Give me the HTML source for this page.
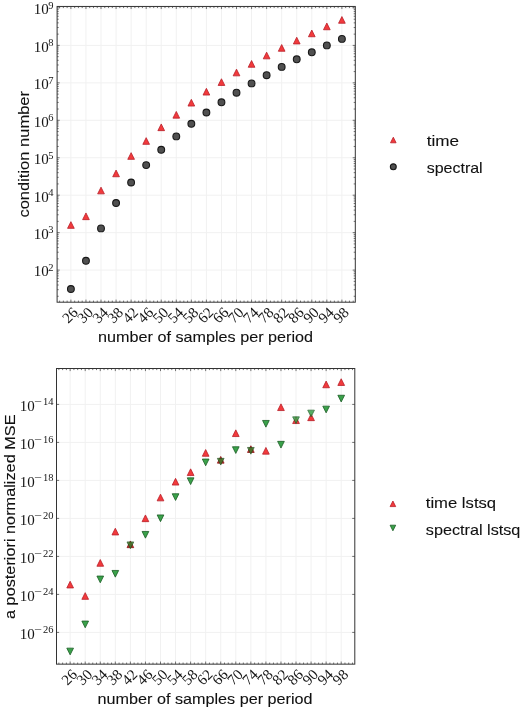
<!DOCTYPE html>
<html><head><meta charset="utf-8"><title>plot</title>
<style>html,body{margin:0;padding:0;background:#fff;}svg{display:block;}</style></head>
<body><svg width="520" height="709" viewBox="0 0 520 709">
<rect width="520" height="709" fill="#fff"/>
<line x1="70.90" y1="6.45" x2="70.90" y2="302.20" stroke="#f1f1f1" stroke-width="1"/>
<line x1="85.96" y1="6.45" x2="85.96" y2="302.20" stroke="#f1f1f1" stroke-width="1"/>
<line x1="101.01" y1="6.45" x2="101.01" y2="302.20" stroke="#f1f1f1" stroke-width="1"/>
<line x1="116.07" y1="6.45" x2="116.07" y2="302.20" stroke="#f1f1f1" stroke-width="1"/>
<line x1="131.12" y1="6.45" x2="131.12" y2="302.20" stroke="#f1f1f1" stroke-width="1"/>
<line x1="146.18" y1="6.45" x2="146.18" y2="302.20" stroke="#f1f1f1" stroke-width="1"/>
<line x1="161.23" y1="6.45" x2="161.23" y2="302.20" stroke="#f1f1f1" stroke-width="1"/>
<line x1="176.29" y1="6.45" x2="176.29" y2="302.20" stroke="#f1f1f1" stroke-width="1"/>
<line x1="191.34" y1="6.45" x2="191.34" y2="302.20" stroke="#f1f1f1" stroke-width="1"/>
<line x1="206.40" y1="6.45" x2="206.40" y2="302.20" stroke="#f1f1f1" stroke-width="1"/>
<line x1="221.46" y1="6.45" x2="221.46" y2="302.20" stroke="#f1f1f1" stroke-width="1"/>
<line x1="236.51" y1="6.45" x2="236.51" y2="302.20" stroke="#f1f1f1" stroke-width="1"/>
<line x1="251.57" y1="6.45" x2="251.57" y2="302.20" stroke="#f1f1f1" stroke-width="1"/>
<line x1="266.62" y1="6.45" x2="266.62" y2="302.20" stroke="#f1f1f1" stroke-width="1"/>
<line x1="281.68" y1="6.45" x2="281.68" y2="302.20" stroke="#f1f1f1" stroke-width="1"/>
<line x1="296.73" y1="6.45" x2="296.73" y2="302.20" stroke="#f1f1f1" stroke-width="1"/>
<line x1="311.79" y1="6.45" x2="311.79" y2="302.20" stroke="#f1f1f1" stroke-width="1"/>
<line x1="326.84" y1="6.45" x2="326.84" y2="302.20" stroke="#f1f1f1" stroke-width="1"/>
<line x1="341.90" y1="6.45" x2="341.90" y2="302.20" stroke="#f1f1f1" stroke-width="1"/>
<line x1="57.1" y1="270.10" x2="355.3" y2="270.10" stroke="#f1f1f1" stroke-width="1"/>
<line x1="57.1" y1="232.65" x2="355.3" y2="232.65" stroke="#f1f1f1" stroke-width="1"/>
<line x1="57.1" y1="195.20" x2="355.3" y2="195.20" stroke="#f1f1f1" stroke-width="1"/>
<line x1="57.1" y1="157.75" x2="355.3" y2="157.75" stroke="#f1f1f1" stroke-width="1"/>
<line x1="57.1" y1="120.30" x2="355.3" y2="120.30" stroke="#f1f1f1" stroke-width="1"/>
<line x1="57.1" y1="82.85" x2="355.3" y2="82.85" stroke="#f1f1f1" stroke-width="1"/>
<line x1="57.1" y1="45.40" x2="355.3" y2="45.40" stroke="#f1f1f1" stroke-width="1"/>
<line x1="57.1" y1="7.95" x2="355.3" y2="7.95" stroke="#f1f1f1" stroke-width="1"/>
<line x1="70.15" y1="368.50" x2="70.15" y2="664.15" stroke="#f1f1f1" stroke-width="1"/>
<line x1="85.21" y1="368.50" x2="85.21" y2="664.15" stroke="#f1f1f1" stroke-width="1"/>
<line x1="100.27" y1="368.50" x2="100.27" y2="664.15" stroke="#f1f1f1" stroke-width="1"/>
<line x1="115.32" y1="368.50" x2="115.32" y2="664.15" stroke="#f1f1f1" stroke-width="1"/>
<line x1="130.38" y1="368.50" x2="130.38" y2="664.15" stroke="#f1f1f1" stroke-width="1"/>
<line x1="145.44" y1="368.50" x2="145.44" y2="664.15" stroke="#f1f1f1" stroke-width="1"/>
<line x1="160.50" y1="368.50" x2="160.50" y2="664.15" stroke="#f1f1f1" stroke-width="1"/>
<line x1="175.56" y1="368.50" x2="175.56" y2="664.15" stroke="#f1f1f1" stroke-width="1"/>
<line x1="190.62" y1="368.50" x2="190.62" y2="664.15" stroke="#f1f1f1" stroke-width="1"/>
<line x1="205.67" y1="368.50" x2="205.67" y2="664.15" stroke="#f1f1f1" stroke-width="1"/>
<line x1="220.73" y1="368.50" x2="220.73" y2="664.15" stroke="#f1f1f1" stroke-width="1"/>
<line x1="235.79" y1="368.50" x2="235.79" y2="664.15" stroke="#f1f1f1" stroke-width="1"/>
<line x1="250.85" y1="368.50" x2="250.85" y2="664.15" stroke="#f1f1f1" stroke-width="1"/>
<line x1="265.91" y1="368.50" x2="265.91" y2="664.15" stroke="#f1f1f1" stroke-width="1"/>
<line x1="280.97" y1="368.50" x2="280.97" y2="664.15" stroke="#f1f1f1" stroke-width="1"/>
<line x1="296.02" y1="368.50" x2="296.02" y2="664.15" stroke="#f1f1f1" stroke-width="1"/>
<line x1="311.08" y1="368.50" x2="311.08" y2="664.15" stroke="#f1f1f1" stroke-width="1"/>
<line x1="326.14" y1="368.50" x2="326.14" y2="664.15" stroke="#f1f1f1" stroke-width="1"/>
<line x1="341.20" y1="368.50" x2="341.20" y2="664.15" stroke="#f1f1f1" stroke-width="1"/>
<line x1="56.5" y1="632.40" x2="354.8" y2="632.40" stroke="#f1f1f1" stroke-width="1"/>
<line x1="56.5" y1="594.40" x2="354.8" y2="594.40" stroke="#f1f1f1" stroke-width="1"/>
<line x1="56.5" y1="556.40" x2="354.8" y2="556.40" stroke="#f1f1f1" stroke-width="1"/>
<line x1="56.5" y1="518.40" x2="354.8" y2="518.40" stroke="#f1f1f1" stroke-width="1"/>
<line x1="56.5" y1="480.40" x2="354.8" y2="480.40" stroke="#f1f1f1" stroke-width="1"/>
<line x1="56.5" y1="442.40" x2="354.8" y2="442.40" stroke="#f1f1f1" stroke-width="1"/>
<line x1="56.5" y1="404.40" x2="354.8" y2="404.40" stroke="#f1f1f1" stroke-width="1"/>
<path d="M70.90,221.65L67.55,228.35L74.25,228.35Z" fill="#f23a3c" stroke="#b81e28" stroke-width="0.8"/>
<path d="M85.96,212.95L82.61,219.65L89.31,219.65Z" fill="#f23a3c" stroke="#b81e28" stroke-width="0.8"/>
<path d="M101.01,187.15L97.66,193.85L104.36,193.85Z" fill="#f23a3c" stroke="#b81e28" stroke-width="0.8"/>
<path d="M116.07,170.05L112.72,176.75L119.42,176.75Z" fill="#f23a3c" stroke="#b81e28" stroke-width="0.8"/>
<path d="M131.12,152.65L127.77,159.35L134.47,159.35Z" fill="#f23a3c" stroke="#b81e28" stroke-width="0.8"/>
<path d="M146.18,137.65L142.83,144.35L149.53,144.35Z" fill="#f23a3c" stroke="#b81e28" stroke-width="0.8"/>
<path d="M161.23,123.95L157.88,130.65L164.58,130.65Z" fill="#f23a3c" stroke="#b81e28" stroke-width="0.8"/>
<path d="M176.29,111.45L172.94,118.15L179.64,118.15Z" fill="#f23a3c" stroke="#b81e28" stroke-width="0.8"/>
<path d="M191.34,99.35L187.99,106.05L194.69,106.05Z" fill="#f23a3c" stroke="#b81e28" stroke-width="0.8"/>
<path d="M206.40,88.35L203.05,95.05L209.75,95.05Z" fill="#f23a3c" stroke="#b81e28" stroke-width="0.8"/>
<path d="M221.46,78.75L218.11,85.45L224.81,85.45Z" fill="#f23a3c" stroke="#b81e28" stroke-width="0.8"/>
<path d="M236.51,69.15L233.16,75.85L239.86,75.85Z" fill="#f23a3c" stroke="#b81e28" stroke-width="0.8"/>
<path d="M251.57,60.55L248.22,67.25L254.92,67.25Z" fill="#f23a3c" stroke="#b81e28" stroke-width="0.8"/>
<path d="M266.62,52.15L263.27,58.85L269.97,58.85Z" fill="#f23a3c" stroke="#b81e28" stroke-width="0.8"/>
<path d="M281.68,44.55L278.33,51.25L285.03,51.25Z" fill="#f23a3c" stroke="#b81e28" stroke-width="0.8"/>
<path d="M296.73,37.25L293.38,43.95L300.08,43.95Z" fill="#f23a3c" stroke="#b81e28" stroke-width="0.8"/>
<path d="M311.79,30.05L308.44,36.75L315.14,36.75Z" fill="#f23a3c" stroke="#b81e28" stroke-width="0.8"/>
<path d="M326.84,23.05L323.49,29.75L330.19,29.75Z" fill="#f23a3c" stroke="#b81e28" stroke-width="0.8"/>
<path d="M341.90,16.55L338.55,23.25L345.25,23.25Z" fill="#f23a3c" stroke="#b81e28" stroke-width="0.8"/>
<circle cx="70.90" cy="289.00" r="3.40" fill="#505050" stroke="#181818" stroke-width="1.1"/>
<circle cx="85.96" cy="260.80" r="3.40" fill="#505050" stroke="#181818" stroke-width="1.1"/>
<circle cx="101.01" cy="228.40" r="3.40" fill="#505050" stroke="#181818" stroke-width="1.1"/>
<circle cx="116.07" cy="203.00" r="3.40" fill="#505050" stroke="#181818" stroke-width="1.1"/>
<circle cx="131.12" cy="182.50" r="3.40" fill="#505050" stroke="#181818" stroke-width="1.1"/>
<circle cx="146.18" cy="165.10" r="3.40" fill="#505050" stroke="#181818" stroke-width="1.1"/>
<circle cx="161.23" cy="149.80" r="3.40" fill="#505050" stroke="#181818" stroke-width="1.1"/>
<circle cx="176.29" cy="136.40" r="3.40" fill="#505050" stroke="#181818" stroke-width="1.1"/>
<circle cx="191.34" cy="123.80" r="3.40" fill="#505050" stroke="#181818" stroke-width="1.1"/>
<circle cx="206.40" cy="112.50" r="3.40" fill="#505050" stroke="#181818" stroke-width="1.1"/>
<circle cx="221.46" cy="102.30" r="3.40" fill="#505050" stroke="#181818" stroke-width="1.1"/>
<circle cx="236.51" cy="92.70" r="3.40" fill="#505050" stroke="#181818" stroke-width="1.1"/>
<circle cx="251.57" cy="83.40" r="3.40" fill="#505050" stroke="#181818" stroke-width="1.1"/>
<circle cx="266.62" cy="75.20" r="3.40" fill="#505050" stroke="#181818" stroke-width="1.1"/>
<circle cx="281.68" cy="66.90" r="3.40" fill="#505050" stroke="#181818" stroke-width="1.1"/>
<circle cx="296.73" cy="59.30" r="3.40" fill="#505050" stroke="#181818" stroke-width="1.1"/>
<circle cx="311.79" cy="52.30" r="3.40" fill="#505050" stroke="#181818" stroke-width="1.1"/>
<circle cx="326.84" cy="45.40" r="3.40" fill="#505050" stroke="#181818" stroke-width="1.1"/>
<circle cx="341.90" cy="38.90" r="3.40" fill="#505050" stroke="#181818" stroke-width="1.1"/>
<path d="M70.15,581.25L66.80,587.95L73.50,587.95Z" fill="#f23a3c" stroke="#b81e28" stroke-width="0.8"/>
<path d="M85.21,592.65L81.86,599.35L88.56,599.35Z" fill="#f23a3c" stroke="#b81e28" stroke-width="0.8"/>
<path d="M100.27,559.55L96.92,566.25L103.62,566.25Z" fill="#f23a3c" stroke="#b81e28" stroke-width="0.8"/>
<path d="M115.32,528.25L111.97,534.95L118.67,534.95Z" fill="#f23a3c" stroke="#b81e28" stroke-width="0.8"/>
<path d="M130.38,540.95L127.03,547.65L133.73,547.65Z" fill="#c42a2a" stroke="#8a1818" stroke-width="0.8"/>
<path d="M145.44,514.95L142.09,521.65L148.79,521.65Z" fill="#f23a3c" stroke="#b81e28" stroke-width="0.8"/>
<path d="M160.50,494.15L157.15,500.85L163.85,500.85Z" fill="#f23a3c" stroke="#b81e28" stroke-width="0.8"/>
<path d="M175.56,478.35L172.21,485.05L178.91,485.05Z" fill="#f23a3c" stroke="#b81e28" stroke-width="0.8"/>
<path d="M190.62,468.85L187.27,475.55L193.97,475.55Z" fill="#f23a3c" stroke="#b81e28" stroke-width="0.8"/>
<path d="M205.67,449.55L202.32,456.25L209.02,456.25Z" fill="#f23a3c" stroke="#b81e28" stroke-width="0.8"/>
<path d="M220.73,456.45L217.38,463.15L224.08,463.15Z" fill="#c42a2a" stroke="#8a1818" stroke-width="0.8"/>
<path d="M235.79,429.85L232.44,436.55L239.14,436.55Z" fill="#f23a3c" stroke="#b81e28" stroke-width="0.8"/>
<path d="M250.85,445.75L247.50,452.45L254.20,452.45Z" fill="#c42a2a" stroke="#8a1818" stroke-width="0.8"/>
<path d="M265.91,447.45L262.56,454.15L269.26,454.15Z" fill="#f23a3c" stroke="#b81e28" stroke-width="0.8"/>
<path d="M280.97,403.85L277.62,410.55L284.32,410.55Z" fill="#f23a3c" stroke="#b81e28" stroke-width="0.8"/>
<path d="M296.02,416.85L292.67,423.55L299.38,423.55Z" fill="#f23a3c" stroke="#b81e28" stroke-width="0.8"/>
<path d="M311.08,413.95L307.73,420.65L314.43,420.65Z" fill="#f23a3c" stroke="#b81e28" stroke-width="0.8"/>
<path d="M326.14,381.05L322.79,387.75L329.49,387.75Z" fill="#f23a3c" stroke="#b81e28" stroke-width="0.8"/>
<path d="M341.20,378.75L337.85,385.45L344.55,385.45Z" fill="#f23a3c" stroke="#b81e28" stroke-width="0.8"/>
<path d="M70.15,654.85L66.80,648.15L73.50,648.15Z" fill="#3aa24a" stroke="#1a5c24" stroke-width="0.8"/>
<path d="M85.21,627.75L81.86,621.05L88.56,621.05Z" fill="#3aa24a" stroke="#1a5c24" stroke-width="0.8"/>
<path d="M100.27,582.75L96.92,576.05L103.62,576.05Z" fill="#3aa24a" stroke="#1a5c24" stroke-width="0.8"/>
<path d="M115.32,577.15L111.97,570.45L118.67,570.45Z" fill="#3aa24a" stroke="#1a5c24" stroke-width="0.8"/>
<path opacity="0.85" d="M130.38,548.65L127.03,541.95L133.73,541.95Z" fill="#3a7a2a" stroke="#1e4a18" stroke-width="0.8"/>
<path d="M145.44,538.15L142.09,531.45L148.79,531.45Z" fill="#3aa24a" stroke="#1a5c24" stroke-width="0.8"/>
<path d="M160.50,521.65L157.15,514.95L163.85,514.95Z" fill="#3aa24a" stroke="#1a5c24" stroke-width="0.8"/>
<path d="M175.56,500.45L172.21,493.75L178.91,493.75Z" fill="#3aa24a" stroke="#1a5c24" stroke-width="0.8"/>
<path d="M190.62,484.55L187.27,477.85L193.97,477.85Z" fill="#3aa24a" stroke="#1a5c24" stroke-width="0.8"/>
<path d="M205.67,465.75L202.32,459.05L209.02,459.05Z" fill="#3aa24a" stroke="#1a5c24" stroke-width="0.8"/>
<path opacity="0.85" d="M220.73,465.05L217.38,458.35L224.08,458.35Z" fill="#3a7a2a" stroke="#1e4a18" stroke-width="0.8"/>
<path d="M235.79,453.45L232.44,446.75L239.14,446.75Z" fill="#3aa24a" stroke="#1a5c24" stroke-width="0.8"/>
<path opacity="0.85" d="M250.85,454.15L247.50,447.45L254.20,447.45Z" fill="#3a7a2a" stroke="#1e4a18" stroke-width="0.8"/>
<path d="M265.91,427.15L262.56,420.45L269.26,420.45Z" fill="#3aa24a" stroke="#1a5c24" stroke-width="0.8"/>
<path d="M280.97,448.05L277.62,441.35L284.32,441.35Z" fill="#3aa24a" stroke="#1a5c24" stroke-width="0.8"/>
<path opacity="0.85" d="M296.02,423.55L292.67,416.85L299.38,416.85Z" fill="#3aa24a" stroke="#1a5c24" stroke-width="0.8"/>
<path opacity="0.85" d="M311.08,416.85L307.73,410.15L314.43,410.15Z" fill="#3aa24a" stroke="#1a5c24" stroke-width="0.8"/>
<path d="M326.14,412.85L322.79,406.15L329.49,406.15Z" fill="#3aa24a" stroke="#1a5c24" stroke-width="0.8"/>
<path d="M341.20,401.95L337.85,395.25L344.55,395.25Z" fill="#3aa24a" stroke="#1a5c24" stroke-width="0.8"/>
<line x1="59.61" y1="302.20" x2="59.61" y2="300.60" stroke="#3a3a3a" stroke-width="0.7"/>
<line x1="59.61" y1="6.45" x2="59.61" y2="8.05" stroke="#3a3a3a" stroke-width="0.7"/>
<line x1="63.37" y1="302.20" x2="63.37" y2="300.60" stroke="#3a3a3a" stroke-width="0.7"/>
<line x1="63.37" y1="6.45" x2="63.37" y2="8.05" stroke="#3a3a3a" stroke-width="0.7"/>
<line x1="67.14" y1="302.20" x2="67.14" y2="300.60" stroke="#3a3a3a" stroke-width="0.7"/>
<line x1="67.14" y1="6.45" x2="67.14" y2="8.05" stroke="#3a3a3a" stroke-width="0.7"/>
<line x1="70.90" y1="302.20" x2="70.90" y2="299.60" stroke="#3a3a3a" stroke-width="0.7"/>
<line x1="70.90" y1="6.45" x2="70.90" y2="9.05" stroke="#3a3a3a" stroke-width="0.7"/>
<line x1="74.66" y1="302.20" x2="74.66" y2="300.60" stroke="#3a3a3a" stroke-width="0.7"/>
<line x1="74.66" y1="6.45" x2="74.66" y2="8.05" stroke="#3a3a3a" stroke-width="0.7"/>
<line x1="78.43" y1="302.20" x2="78.43" y2="300.60" stroke="#3a3a3a" stroke-width="0.7"/>
<line x1="78.43" y1="6.45" x2="78.43" y2="8.05" stroke="#3a3a3a" stroke-width="0.7"/>
<line x1="82.19" y1="302.20" x2="82.19" y2="300.60" stroke="#3a3a3a" stroke-width="0.7"/>
<line x1="82.19" y1="6.45" x2="82.19" y2="8.05" stroke="#3a3a3a" stroke-width="0.7"/>
<line x1="85.96" y1="302.20" x2="85.96" y2="299.60" stroke="#3a3a3a" stroke-width="0.7"/>
<line x1="85.96" y1="6.45" x2="85.96" y2="9.05" stroke="#3a3a3a" stroke-width="0.7"/>
<line x1="89.72" y1="302.20" x2="89.72" y2="300.60" stroke="#3a3a3a" stroke-width="0.7"/>
<line x1="89.72" y1="6.45" x2="89.72" y2="8.05" stroke="#3a3a3a" stroke-width="0.7"/>
<line x1="93.48" y1="302.20" x2="93.48" y2="300.60" stroke="#3a3a3a" stroke-width="0.7"/>
<line x1="93.48" y1="6.45" x2="93.48" y2="8.05" stroke="#3a3a3a" stroke-width="0.7"/>
<line x1="97.25" y1="302.20" x2="97.25" y2="300.60" stroke="#3a3a3a" stroke-width="0.7"/>
<line x1="97.25" y1="6.45" x2="97.25" y2="8.05" stroke="#3a3a3a" stroke-width="0.7"/>
<line x1="101.01" y1="302.20" x2="101.01" y2="299.60" stroke="#3a3a3a" stroke-width="0.7"/>
<line x1="101.01" y1="6.45" x2="101.01" y2="9.05" stroke="#3a3a3a" stroke-width="0.7"/>
<line x1="104.78" y1="302.20" x2="104.78" y2="300.60" stroke="#3a3a3a" stroke-width="0.7"/>
<line x1="104.78" y1="6.45" x2="104.78" y2="8.05" stroke="#3a3a3a" stroke-width="0.7"/>
<line x1="108.54" y1="302.20" x2="108.54" y2="300.60" stroke="#3a3a3a" stroke-width="0.7"/>
<line x1="108.54" y1="6.45" x2="108.54" y2="8.05" stroke="#3a3a3a" stroke-width="0.7"/>
<line x1="112.30" y1="302.20" x2="112.30" y2="300.60" stroke="#3a3a3a" stroke-width="0.7"/>
<line x1="112.30" y1="6.45" x2="112.30" y2="8.05" stroke="#3a3a3a" stroke-width="0.7"/>
<line x1="116.07" y1="302.20" x2="116.07" y2="299.60" stroke="#3a3a3a" stroke-width="0.7"/>
<line x1="116.07" y1="6.45" x2="116.07" y2="9.05" stroke="#3a3a3a" stroke-width="0.7"/>
<line x1="119.83" y1="302.20" x2="119.83" y2="300.60" stroke="#3a3a3a" stroke-width="0.7"/>
<line x1="119.83" y1="6.45" x2="119.83" y2="8.05" stroke="#3a3a3a" stroke-width="0.7"/>
<line x1="123.59" y1="302.20" x2="123.59" y2="300.60" stroke="#3a3a3a" stroke-width="0.7"/>
<line x1="123.59" y1="6.45" x2="123.59" y2="8.05" stroke="#3a3a3a" stroke-width="0.7"/>
<line x1="127.36" y1="302.20" x2="127.36" y2="300.60" stroke="#3a3a3a" stroke-width="0.7"/>
<line x1="127.36" y1="6.45" x2="127.36" y2="8.05" stroke="#3a3a3a" stroke-width="0.7"/>
<line x1="131.12" y1="302.20" x2="131.12" y2="299.60" stroke="#3a3a3a" stroke-width="0.7"/>
<line x1="131.12" y1="6.45" x2="131.12" y2="9.05" stroke="#3a3a3a" stroke-width="0.7"/>
<line x1="134.89" y1="302.20" x2="134.89" y2="300.60" stroke="#3a3a3a" stroke-width="0.7"/>
<line x1="134.89" y1="6.45" x2="134.89" y2="8.05" stroke="#3a3a3a" stroke-width="0.7"/>
<line x1="138.65" y1="302.20" x2="138.65" y2="300.60" stroke="#3a3a3a" stroke-width="0.7"/>
<line x1="138.65" y1="6.45" x2="138.65" y2="8.05" stroke="#3a3a3a" stroke-width="0.7"/>
<line x1="142.41" y1="302.20" x2="142.41" y2="300.60" stroke="#3a3a3a" stroke-width="0.7"/>
<line x1="142.41" y1="6.45" x2="142.41" y2="8.05" stroke="#3a3a3a" stroke-width="0.7"/>
<line x1="146.18" y1="302.20" x2="146.18" y2="299.60" stroke="#3a3a3a" stroke-width="0.7"/>
<line x1="146.18" y1="6.45" x2="146.18" y2="9.05" stroke="#3a3a3a" stroke-width="0.7"/>
<line x1="149.94" y1="302.20" x2="149.94" y2="300.60" stroke="#3a3a3a" stroke-width="0.7"/>
<line x1="149.94" y1="6.45" x2="149.94" y2="8.05" stroke="#3a3a3a" stroke-width="0.7"/>
<line x1="153.71" y1="302.20" x2="153.71" y2="300.60" stroke="#3a3a3a" stroke-width="0.7"/>
<line x1="153.71" y1="6.45" x2="153.71" y2="8.05" stroke="#3a3a3a" stroke-width="0.7"/>
<line x1="157.47" y1="302.20" x2="157.47" y2="300.60" stroke="#3a3a3a" stroke-width="0.7"/>
<line x1="157.47" y1="6.45" x2="157.47" y2="8.05" stroke="#3a3a3a" stroke-width="0.7"/>
<line x1="161.23" y1="302.20" x2="161.23" y2="299.60" stroke="#3a3a3a" stroke-width="0.7"/>
<line x1="161.23" y1="6.45" x2="161.23" y2="9.05" stroke="#3a3a3a" stroke-width="0.7"/>
<line x1="165.00" y1="302.20" x2="165.00" y2="300.60" stroke="#3a3a3a" stroke-width="0.7"/>
<line x1="165.00" y1="6.45" x2="165.00" y2="8.05" stroke="#3a3a3a" stroke-width="0.7"/>
<line x1="168.76" y1="302.20" x2="168.76" y2="300.60" stroke="#3a3a3a" stroke-width="0.7"/>
<line x1="168.76" y1="6.45" x2="168.76" y2="8.05" stroke="#3a3a3a" stroke-width="0.7"/>
<line x1="172.53" y1="302.20" x2="172.53" y2="300.60" stroke="#3a3a3a" stroke-width="0.7"/>
<line x1="172.53" y1="6.45" x2="172.53" y2="8.05" stroke="#3a3a3a" stroke-width="0.7"/>
<line x1="176.29" y1="302.20" x2="176.29" y2="299.60" stroke="#3a3a3a" stroke-width="0.7"/>
<line x1="176.29" y1="6.45" x2="176.29" y2="9.05" stroke="#3a3a3a" stroke-width="0.7"/>
<line x1="180.05" y1="302.20" x2="180.05" y2="300.60" stroke="#3a3a3a" stroke-width="0.7"/>
<line x1="180.05" y1="6.45" x2="180.05" y2="8.05" stroke="#3a3a3a" stroke-width="0.7"/>
<line x1="183.82" y1="302.20" x2="183.82" y2="300.60" stroke="#3a3a3a" stroke-width="0.7"/>
<line x1="183.82" y1="6.45" x2="183.82" y2="8.05" stroke="#3a3a3a" stroke-width="0.7"/>
<line x1="187.58" y1="302.20" x2="187.58" y2="300.60" stroke="#3a3a3a" stroke-width="0.7"/>
<line x1="187.58" y1="6.45" x2="187.58" y2="8.05" stroke="#3a3a3a" stroke-width="0.7"/>
<line x1="191.34" y1="302.20" x2="191.34" y2="299.60" stroke="#3a3a3a" stroke-width="0.7"/>
<line x1="191.34" y1="6.45" x2="191.34" y2="9.05" stroke="#3a3a3a" stroke-width="0.7"/>
<line x1="195.11" y1="302.20" x2="195.11" y2="300.60" stroke="#3a3a3a" stroke-width="0.7"/>
<line x1="195.11" y1="6.45" x2="195.11" y2="8.05" stroke="#3a3a3a" stroke-width="0.7"/>
<line x1="198.87" y1="302.20" x2="198.87" y2="300.60" stroke="#3a3a3a" stroke-width="0.7"/>
<line x1="198.87" y1="6.45" x2="198.87" y2="8.05" stroke="#3a3a3a" stroke-width="0.7"/>
<line x1="202.64" y1="302.20" x2="202.64" y2="300.60" stroke="#3a3a3a" stroke-width="0.7"/>
<line x1="202.64" y1="6.45" x2="202.64" y2="8.05" stroke="#3a3a3a" stroke-width="0.7"/>
<line x1="206.40" y1="302.20" x2="206.40" y2="299.60" stroke="#3a3a3a" stroke-width="0.7"/>
<line x1="206.40" y1="6.45" x2="206.40" y2="9.05" stroke="#3a3a3a" stroke-width="0.7"/>
<line x1="210.16" y1="302.20" x2="210.16" y2="300.60" stroke="#3a3a3a" stroke-width="0.7"/>
<line x1="210.16" y1="6.45" x2="210.16" y2="8.05" stroke="#3a3a3a" stroke-width="0.7"/>
<line x1="213.93" y1="302.20" x2="213.93" y2="300.60" stroke="#3a3a3a" stroke-width="0.7"/>
<line x1="213.93" y1="6.45" x2="213.93" y2="8.05" stroke="#3a3a3a" stroke-width="0.7"/>
<line x1="217.69" y1="302.20" x2="217.69" y2="300.60" stroke="#3a3a3a" stroke-width="0.7"/>
<line x1="217.69" y1="6.45" x2="217.69" y2="8.05" stroke="#3a3a3a" stroke-width="0.7"/>
<line x1="221.46" y1="302.20" x2="221.46" y2="299.60" stroke="#3a3a3a" stroke-width="0.7"/>
<line x1="221.46" y1="6.45" x2="221.46" y2="9.05" stroke="#3a3a3a" stroke-width="0.7"/>
<line x1="225.22" y1="302.20" x2="225.22" y2="300.60" stroke="#3a3a3a" stroke-width="0.7"/>
<line x1="225.22" y1="6.45" x2="225.22" y2="8.05" stroke="#3a3a3a" stroke-width="0.7"/>
<line x1="228.98" y1="302.20" x2="228.98" y2="300.60" stroke="#3a3a3a" stroke-width="0.7"/>
<line x1="228.98" y1="6.45" x2="228.98" y2="8.05" stroke="#3a3a3a" stroke-width="0.7"/>
<line x1="232.75" y1="302.20" x2="232.75" y2="300.60" stroke="#3a3a3a" stroke-width="0.7"/>
<line x1="232.75" y1="6.45" x2="232.75" y2="8.05" stroke="#3a3a3a" stroke-width="0.7"/>
<line x1="236.51" y1="302.20" x2="236.51" y2="299.60" stroke="#3a3a3a" stroke-width="0.7"/>
<line x1="236.51" y1="6.45" x2="236.51" y2="9.05" stroke="#3a3a3a" stroke-width="0.7"/>
<line x1="240.28" y1="302.20" x2="240.28" y2="300.60" stroke="#3a3a3a" stroke-width="0.7"/>
<line x1="240.28" y1="6.45" x2="240.28" y2="8.05" stroke="#3a3a3a" stroke-width="0.7"/>
<line x1="244.04" y1="302.20" x2="244.04" y2="300.60" stroke="#3a3a3a" stroke-width="0.7"/>
<line x1="244.04" y1="6.45" x2="244.04" y2="8.05" stroke="#3a3a3a" stroke-width="0.7"/>
<line x1="247.80" y1="302.20" x2="247.80" y2="300.60" stroke="#3a3a3a" stroke-width="0.7"/>
<line x1="247.80" y1="6.45" x2="247.80" y2="8.05" stroke="#3a3a3a" stroke-width="0.7"/>
<line x1="251.57" y1="302.20" x2="251.57" y2="299.60" stroke="#3a3a3a" stroke-width="0.7"/>
<line x1="251.57" y1="6.45" x2="251.57" y2="9.05" stroke="#3a3a3a" stroke-width="0.7"/>
<line x1="255.33" y1="302.20" x2="255.33" y2="300.60" stroke="#3a3a3a" stroke-width="0.7"/>
<line x1="255.33" y1="6.45" x2="255.33" y2="8.05" stroke="#3a3a3a" stroke-width="0.7"/>
<line x1="259.09" y1="302.20" x2="259.09" y2="300.60" stroke="#3a3a3a" stroke-width="0.7"/>
<line x1="259.09" y1="6.45" x2="259.09" y2="8.05" stroke="#3a3a3a" stroke-width="0.7"/>
<line x1="262.86" y1="302.20" x2="262.86" y2="300.60" stroke="#3a3a3a" stroke-width="0.7"/>
<line x1="262.86" y1="6.45" x2="262.86" y2="8.05" stroke="#3a3a3a" stroke-width="0.7"/>
<line x1="266.62" y1="302.20" x2="266.62" y2="299.60" stroke="#3a3a3a" stroke-width="0.7"/>
<line x1="266.62" y1="6.45" x2="266.62" y2="9.05" stroke="#3a3a3a" stroke-width="0.7"/>
<line x1="270.39" y1="302.20" x2="270.39" y2="300.60" stroke="#3a3a3a" stroke-width="0.7"/>
<line x1="270.39" y1="6.45" x2="270.39" y2="8.05" stroke="#3a3a3a" stroke-width="0.7"/>
<line x1="274.15" y1="302.20" x2="274.15" y2="300.60" stroke="#3a3a3a" stroke-width="0.7"/>
<line x1="274.15" y1="6.45" x2="274.15" y2="8.05" stroke="#3a3a3a" stroke-width="0.7"/>
<line x1="277.91" y1="302.20" x2="277.91" y2="300.60" stroke="#3a3a3a" stroke-width="0.7"/>
<line x1="277.91" y1="6.45" x2="277.91" y2="8.05" stroke="#3a3a3a" stroke-width="0.7"/>
<line x1="281.68" y1="302.20" x2="281.68" y2="299.60" stroke="#3a3a3a" stroke-width="0.7"/>
<line x1="281.68" y1="6.45" x2="281.68" y2="9.05" stroke="#3a3a3a" stroke-width="0.7"/>
<line x1="285.44" y1="302.20" x2="285.44" y2="300.60" stroke="#3a3a3a" stroke-width="0.7"/>
<line x1="285.44" y1="6.45" x2="285.44" y2="8.05" stroke="#3a3a3a" stroke-width="0.7"/>
<line x1="289.21" y1="302.20" x2="289.21" y2="300.60" stroke="#3a3a3a" stroke-width="0.7"/>
<line x1="289.21" y1="6.45" x2="289.21" y2="8.05" stroke="#3a3a3a" stroke-width="0.7"/>
<line x1="292.97" y1="302.20" x2="292.97" y2="300.60" stroke="#3a3a3a" stroke-width="0.7"/>
<line x1="292.97" y1="6.45" x2="292.97" y2="8.05" stroke="#3a3a3a" stroke-width="0.7"/>
<line x1="296.73" y1="302.20" x2="296.73" y2="299.60" stroke="#3a3a3a" stroke-width="0.7"/>
<line x1="296.73" y1="6.45" x2="296.73" y2="9.05" stroke="#3a3a3a" stroke-width="0.7"/>
<line x1="300.50" y1="302.20" x2="300.50" y2="300.60" stroke="#3a3a3a" stroke-width="0.7"/>
<line x1="300.50" y1="6.45" x2="300.50" y2="8.05" stroke="#3a3a3a" stroke-width="0.7"/>
<line x1="304.26" y1="302.20" x2="304.26" y2="300.60" stroke="#3a3a3a" stroke-width="0.7"/>
<line x1="304.26" y1="6.45" x2="304.26" y2="8.05" stroke="#3a3a3a" stroke-width="0.7"/>
<line x1="308.02" y1="302.20" x2="308.02" y2="300.60" stroke="#3a3a3a" stroke-width="0.7"/>
<line x1="308.02" y1="6.45" x2="308.02" y2="8.05" stroke="#3a3a3a" stroke-width="0.7"/>
<line x1="311.79" y1="302.20" x2="311.79" y2="299.60" stroke="#3a3a3a" stroke-width="0.7"/>
<line x1="311.79" y1="6.45" x2="311.79" y2="9.05" stroke="#3a3a3a" stroke-width="0.7"/>
<line x1="315.55" y1="302.20" x2="315.55" y2="300.60" stroke="#3a3a3a" stroke-width="0.7"/>
<line x1="315.55" y1="6.45" x2="315.55" y2="8.05" stroke="#3a3a3a" stroke-width="0.7"/>
<line x1="319.32" y1="302.20" x2="319.32" y2="300.60" stroke="#3a3a3a" stroke-width="0.7"/>
<line x1="319.32" y1="6.45" x2="319.32" y2="8.05" stroke="#3a3a3a" stroke-width="0.7"/>
<line x1="323.08" y1="302.20" x2="323.08" y2="300.60" stroke="#3a3a3a" stroke-width="0.7"/>
<line x1="323.08" y1="6.45" x2="323.08" y2="8.05" stroke="#3a3a3a" stroke-width="0.7"/>
<line x1="326.84" y1="302.20" x2="326.84" y2="299.60" stroke="#3a3a3a" stroke-width="0.7"/>
<line x1="326.84" y1="6.45" x2="326.84" y2="9.05" stroke="#3a3a3a" stroke-width="0.7"/>
<line x1="330.61" y1="302.20" x2="330.61" y2="300.60" stroke="#3a3a3a" stroke-width="0.7"/>
<line x1="330.61" y1="6.45" x2="330.61" y2="8.05" stroke="#3a3a3a" stroke-width="0.7"/>
<line x1="334.37" y1="302.20" x2="334.37" y2="300.60" stroke="#3a3a3a" stroke-width="0.7"/>
<line x1="334.37" y1="6.45" x2="334.37" y2="8.05" stroke="#3a3a3a" stroke-width="0.7"/>
<line x1="338.14" y1="302.20" x2="338.14" y2="300.60" stroke="#3a3a3a" stroke-width="0.7"/>
<line x1="338.14" y1="6.45" x2="338.14" y2="8.05" stroke="#3a3a3a" stroke-width="0.7"/>
<line x1="341.90" y1="302.20" x2="341.90" y2="299.60" stroke="#3a3a3a" stroke-width="0.7"/>
<line x1="341.90" y1="6.45" x2="341.90" y2="9.05" stroke="#3a3a3a" stroke-width="0.7"/>
<line x1="345.66" y1="302.20" x2="345.66" y2="300.60" stroke="#3a3a3a" stroke-width="0.7"/>
<line x1="345.66" y1="6.45" x2="345.66" y2="8.05" stroke="#3a3a3a" stroke-width="0.7"/>
<line x1="349.43" y1="302.20" x2="349.43" y2="300.60" stroke="#3a3a3a" stroke-width="0.7"/>
<line x1="349.43" y1="6.45" x2="349.43" y2="8.05" stroke="#3a3a3a" stroke-width="0.7"/>
<line x1="353.19" y1="302.20" x2="353.19" y2="300.60" stroke="#3a3a3a" stroke-width="0.7"/>
<line x1="353.19" y1="6.45" x2="353.19" y2="8.05" stroke="#3a3a3a" stroke-width="0.7"/>
<line x1="57.1" y1="296.28" x2="58.7" y2="296.28" stroke="#3a3a3a" stroke-width="0.7"/>
<line x1="355.3" y1="296.28" x2="353.7" y2="296.28" stroke="#3a3a3a" stroke-width="0.7"/>
<line x1="57.1" y1="289.68" x2="58.7" y2="289.68" stroke="#3a3a3a" stroke-width="0.7"/>
<line x1="355.3" y1="289.68" x2="353.7" y2="289.68" stroke="#3a3a3a" stroke-width="0.7"/>
<line x1="57.1" y1="285.00" x2="58.7" y2="285.00" stroke="#3a3a3a" stroke-width="0.7"/>
<line x1="355.3" y1="285.00" x2="353.7" y2="285.00" stroke="#3a3a3a" stroke-width="0.7"/>
<line x1="57.1" y1="281.37" x2="58.7" y2="281.37" stroke="#3a3a3a" stroke-width="0.7"/>
<line x1="355.3" y1="281.37" x2="353.7" y2="281.37" stroke="#3a3a3a" stroke-width="0.7"/>
<line x1="57.1" y1="278.41" x2="58.7" y2="278.41" stroke="#3a3a3a" stroke-width="0.7"/>
<line x1="355.3" y1="278.41" x2="353.7" y2="278.41" stroke="#3a3a3a" stroke-width="0.7"/>
<line x1="57.1" y1="275.90" x2="58.7" y2="275.90" stroke="#3a3a3a" stroke-width="0.7"/>
<line x1="355.3" y1="275.90" x2="353.7" y2="275.90" stroke="#3a3a3a" stroke-width="0.7"/>
<line x1="57.1" y1="273.73" x2="58.7" y2="273.73" stroke="#3a3a3a" stroke-width="0.7"/>
<line x1="355.3" y1="273.73" x2="353.7" y2="273.73" stroke="#3a3a3a" stroke-width="0.7"/>
<line x1="57.1" y1="271.81" x2="58.7" y2="271.81" stroke="#3a3a3a" stroke-width="0.7"/>
<line x1="355.3" y1="271.81" x2="353.7" y2="271.81" stroke="#3a3a3a" stroke-width="0.7"/>
<line x1="57.1" y1="270.10" x2="59.7" y2="270.10" stroke="#3a3a3a" stroke-width="0.7"/>
<line x1="355.3" y1="270.10" x2="352.7" y2="270.10" stroke="#3a3a3a" stroke-width="0.7"/>
<line x1="57.1" y1="258.83" x2="58.7" y2="258.83" stroke="#3a3a3a" stroke-width="0.7"/>
<line x1="355.3" y1="258.83" x2="353.7" y2="258.83" stroke="#3a3a3a" stroke-width="0.7"/>
<line x1="57.1" y1="252.23" x2="58.7" y2="252.23" stroke="#3a3a3a" stroke-width="0.7"/>
<line x1="355.3" y1="252.23" x2="353.7" y2="252.23" stroke="#3a3a3a" stroke-width="0.7"/>
<line x1="57.1" y1="247.55" x2="58.7" y2="247.55" stroke="#3a3a3a" stroke-width="0.7"/>
<line x1="355.3" y1="247.55" x2="353.7" y2="247.55" stroke="#3a3a3a" stroke-width="0.7"/>
<line x1="57.1" y1="243.92" x2="58.7" y2="243.92" stroke="#3a3a3a" stroke-width="0.7"/>
<line x1="355.3" y1="243.92" x2="353.7" y2="243.92" stroke="#3a3a3a" stroke-width="0.7"/>
<line x1="57.1" y1="240.96" x2="58.7" y2="240.96" stroke="#3a3a3a" stroke-width="0.7"/>
<line x1="355.3" y1="240.96" x2="353.7" y2="240.96" stroke="#3a3a3a" stroke-width="0.7"/>
<line x1="57.1" y1="238.45" x2="58.7" y2="238.45" stroke="#3a3a3a" stroke-width="0.7"/>
<line x1="355.3" y1="238.45" x2="353.7" y2="238.45" stroke="#3a3a3a" stroke-width="0.7"/>
<line x1="57.1" y1="236.28" x2="58.7" y2="236.28" stroke="#3a3a3a" stroke-width="0.7"/>
<line x1="355.3" y1="236.28" x2="353.7" y2="236.28" stroke="#3a3a3a" stroke-width="0.7"/>
<line x1="57.1" y1="234.36" x2="58.7" y2="234.36" stroke="#3a3a3a" stroke-width="0.7"/>
<line x1="355.3" y1="234.36" x2="353.7" y2="234.36" stroke="#3a3a3a" stroke-width="0.7"/>
<line x1="57.1" y1="232.65" x2="59.7" y2="232.65" stroke="#3a3a3a" stroke-width="0.7"/>
<line x1="355.3" y1="232.65" x2="352.7" y2="232.65" stroke="#3a3a3a" stroke-width="0.7"/>
<line x1="57.1" y1="221.38" x2="58.7" y2="221.38" stroke="#3a3a3a" stroke-width="0.7"/>
<line x1="355.3" y1="221.38" x2="353.7" y2="221.38" stroke="#3a3a3a" stroke-width="0.7"/>
<line x1="57.1" y1="214.78" x2="58.7" y2="214.78" stroke="#3a3a3a" stroke-width="0.7"/>
<line x1="355.3" y1="214.78" x2="353.7" y2="214.78" stroke="#3a3a3a" stroke-width="0.7"/>
<line x1="57.1" y1="210.10" x2="58.7" y2="210.10" stroke="#3a3a3a" stroke-width="0.7"/>
<line x1="355.3" y1="210.10" x2="353.7" y2="210.10" stroke="#3a3a3a" stroke-width="0.7"/>
<line x1="57.1" y1="206.47" x2="58.7" y2="206.47" stroke="#3a3a3a" stroke-width="0.7"/>
<line x1="355.3" y1="206.47" x2="353.7" y2="206.47" stroke="#3a3a3a" stroke-width="0.7"/>
<line x1="57.1" y1="203.51" x2="58.7" y2="203.51" stroke="#3a3a3a" stroke-width="0.7"/>
<line x1="355.3" y1="203.51" x2="353.7" y2="203.51" stroke="#3a3a3a" stroke-width="0.7"/>
<line x1="57.1" y1="201.00" x2="58.7" y2="201.00" stroke="#3a3a3a" stroke-width="0.7"/>
<line x1="355.3" y1="201.00" x2="353.7" y2="201.00" stroke="#3a3a3a" stroke-width="0.7"/>
<line x1="57.1" y1="198.83" x2="58.7" y2="198.83" stroke="#3a3a3a" stroke-width="0.7"/>
<line x1="355.3" y1="198.83" x2="353.7" y2="198.83" stroke="#3a3a3a" stroke-width="0.7"/>
<line x1="57.1" y1="196.91" x2="58.7" y2="196.91" stroke="#3a3a3a" stroke-width="0.7"/>
<line x1="355.3" y1="196.91" x2="353.7" y2="196.91" stroke="#3a3a3a" stroke-width="0.7"/>
<line x1="57.1" y1="195.20" x2="59.7" y2="195.20" stroke="#3a3a3a" stroke-width="0.7"/>
<line x1="355.3" y1="195.20" x2="352.7" y2="195.20" stroke="#3a3a3a" stroke-width="0.7"/>
<line x1="57.1" y1="183.93" x2="58.7" y2="183.93" stroke="#3a3a3a" stroke-width="0.7"/>
<line x1="355.3" y1="183.93" x2="353.7" y2="183.93" stroke="#3a3a3a" stroke-width="0.7"/>
<line x1="57.1" y1="177.33" x2="58.7" y2="177.33" stroke="#3a3a3a" stroke-width="0.7"/>
<line x1="355.3" y1="177.33" x2="353.7" y2="177.33" stroke="#3a3a3a" stroke-width="0.7"/>
<line x1="57.1" y1="172.65" x2="58.7" y2="172.65" stroke="#3a3a3a" stroke-width="0.7"/>
<line x1="355.3" y1="172.65" x2="353.7" y2="172.65" stroke="#3a3a3a" stroke-width="0.7"/>
<line x1="57.1" y1="169.02" x2="58.7" y2="169.02" stroke="#3a3a3a" stroke-width="0.7"/>
<line x1="355.3" y1="169.02" x2="353.7" y2="169.02" stroke="#3a3a3a" stroke-width="0.7"/>
<line x1="57.1" y1="166.06" x2="58.7" y2="166.06" stroke="#3a3a3a" stroke-width="0.7"/>
<line x1="355.3" y1="166.06" x2="353.7" y2="166.06" stroke="#3a3a3a" stroke-width="0.7"/>
<line x1="57.1" y1="163.55" x2="58.7" y2="163.55" stroke="#3a3a3a" stroke-width="0.7"/>
<line x1="355.3" y1="163.55" x2="353.7" y2="163.55" stroke="#3a3a3a" stroke-width="0.7"/>
<line x1="57.1" y1="161.38" x2="58.7" y2="161.38" stroke="#3a3a3a" stroke-width="0.7"/>
<line x1="355.3" y1="161.38" x2="353.7" y2="161.38" stroke="#3a3a3a" stroke-width="0.7"/>
<line x1="57.1" y1="159.46" x2="58.7" y2="159.46" stroke="#3a3a3a" stroke-width="0.7"/>
<line x1="355.3" y1="159.46" x2="353.7" y2="159.46" stroke="#3a3a3a" stroke-width="0.7"/>
<line x1="57.1" y1="157.75" x2="59.7" y2="157.75" stroke="#3a3a3a" stroke-width="0.7"/>
<line x1="355.3" y1="157.75" x2="352.7" y2="157.75" stroke="#3a3a3a" stroke-width="0.7"/>
<line x1="57.1" y1="146.48" x2="58.7" y2="146.48" stroke="#3a3a3a" stroke-width="0.7"/>
<line x1="355.3" y1="146.48" x2="353.7" y2="146.48" stroke="#3a3a3a" stroke-width="0.7"/>
<line x1="57.1" y1="139.88" x2="58.7" y2="139.88" stroke="#3a3a3a" stroke-width="0.7"/>
<line x1="355.3" y1="139.88" x2="353.7" y2="139.88" stroke="#3a3a3a" stroke-width="0.7"/>
<line x1="57.1" y1="135.20" x2="58.7" y2="135.20" stroke="#3a3a3a" stroke-width="0.7"/>
<line x1="355.3" y1="135.20" x2="353.7" y2="135.20" stroke="#3a3a3a" stroke-width="0.7"/>
<line x1="57.1" y1="131.57" x2="58.7" y2="131.57" stroke="#3a3a3a" stroke-width="0.7"/>
<line x1="355.3" y1="131.57" x2="353.7" y2="131.57" stroke="#3a3a3a" stroke-width="0.7"/>
<line x1="57.1" y1="128.61" x2="58.7" y2="128.61" stroke="#3a3a3a" stroke-width="0.7"/>
<line x1="355.3" y1="128.61" x2="353.7" y2="128.61" stroke="#3a3a3a" stroke-width="0.7"/>
<line x1="57.1" y1="126.10" x2="58.7" y2="126.10" stroke="#3a3a3a" stroke-width="0.7"/>
<line x1="355.3" y1="126.10" x2="353.7" y2="126.10" stroke="#3a3a3a" stroke-width="0.7"/>
<line x1="57.1" y1="123.93" x2="58.7" y2="123.93" stroke="#3a3a3a" stroke-width="0.7"/>
<line x1="355.3" y1="123.93" x2="353.7" y2="123.93" stroke="#3a3a3a" stroke-width="0.7"/>
<line x1="57.1" y1="122.01" x2="58.7" y2="122.01" stroke="#3a3a3a" stroke-width="0.7"/>
<line x1="355.3" y1="122.01" x2="353.7" y2="122.01" stroke="#3a3a3a" stroke-width="0.7"/>
<line x1="57.1" y1="120.30" x2="59.7" y2="120.30" stroke="#3a3a3a" stroke-width="0.7"/>
<line x1="355.3" y1="120.30" x2="352.7" y2="120.30" stroke="#3a3a3a" stroke-width="0.7"/>
<line x1="57.1" y1="109.03" x2="58.7" y2="109.03" stroke="#3a3a3a" stroke-width="0.7"/>
<line x1="355.3" y1="109.03" x2="353.7" y2="109.03" stroke="#3a3a3a" stroke-width="0.7"/>
<line x1="57.1" y1="102.43" x2="58.7" y2="102.43" stroke="#3a3a3a" stroke-width="0.7"/>
<line x1="355.3" y1="102.43" x2="353.7" y2="102.43" stroke="#3a3a3a" stroke-width="0.7"/>
<line x1="57.1" y1="97.75" x2="58.7" y2="97.75" stroke="#3a3a3a" stroke-width="0.7"/>
<line x1="355.3" y1="97.75" x2="353.7" y2="97.75" stroke="#3a3a3a" stroke-width="0.7"/>
<line x1="57.1" y1="94.12" x2="58.7" y2="94.12" stroke="#3a3a3a" stroke-width="0.7"/>
<line x1="355.3" y1="94.12" x2="353.7" y2="94.12" stroke="#3a3a3a" stroke-width="0.7"/>
<line x1="57.1" y1="91.16" x2="58.7" y2="91.16" stroke="#3a3a3a" stroke-width="0.7"/>
<line x1="355.3" y1="91.16" x2="353.7" y2="91.16" stroke="#3a3a3a" stroke-width="0.7"/>
<line x1="57.1" y1="88.65" x2="58.7" y2="88.65" stroke="#3a3a3a" stroke-width="0.7"/>
<line x1="355.3" y1="88.65" x2="353.7" y2="88.65" stroke="#3a3a3a" stroke-width="0.7"/>
<line x1="57.1" y1="86.48" x2="58.7" y2="86.48" stroke="#3a3a3a" stroke-width="0.7"/>
<line x1="355.3" y1="86.48" x2="353.7" y2="86.48" stroke="#3a3a3a" stroke-width="0.7"/>
<line x1="57.1" y1="84.56" x2="58.7" y2="84.56" stroke="#3a3a3a" stroke-width="0.7"/>
<line x1="355.3" y1="84.56" x2="353.7" y2="84.56" stroke="#3a3a3a" stroke-width="0.7"/>
<line x1="57.1" y1="82.85" x2="59.7" y2="82.85" stroke="#3a3a3a" stroke-width="0.7"/>
<line x1="355.3" y1="82.85" x2="352.7" y2="82.85" stroke="#3a3a3a" stroke-width="0.7"/>
<line x1="57.1" y1="71.58" x2="58.7" y2="71.58" stroke="#3a3a3a" stroke-width="0.7"/>
<line x1="355.3" y1="71.58" x2="353.7" y2="71.58" stroke="#3a3a3a" stroke-width="0.7"/>
<line x1="57.1" y1="64.98" x2="58.7" y2="64.98" stroke="#3a3a3a" stroke-width="0.7"/>
<line x1="355.3" y1="64.98" x2="353.7" y2="64.98" stroke="#3a3a3a" stroke-width="0.7"/>
<line x1="57.1" y1="60.30" x2="58.7" y2="60.30" stroke="#3a3a3a" stroke-width="0.7"/>
<line x1="355.3" y1="60.30" x2="353.7" y2="60.30" stroke="#3a3a3a" stroke-width="0.7"/>
<line x1="57.1" y1="56.67" x2="58.7" y2="56.67" stroke="#3a3a3a" stroke-width="0.7"/>
<line x1="355.3" y1="56.67" x2="353.7" y2="56.67" stroke="#3a3a3a" stroke-width="0.7"/>
<line x1="57.1" y1="53.71" x2="58.7" y2="53.71" stroke="#3a3a3a" stroke-width="0.7"/>
<line x1="355.3" y1="53.71" x2="353.7" y2="53.71" stroke="#3a3a3a" stroke-width="0.7"/>
<line x1="57.1" y1="51.20" x2="58.7" y2="51.20" stroke="#3a3a3a" stroke-width="0.7"/>
<line x1="355.3" y1="51.20" x2="353.7" y2="51.20" stroke="#3a3a3a" stroke-width="0.7"/>
<line x1="57.1" y1="49.03" x2="58.7" y2="49.03" stroke="#3a3a3a" stroke-width="0.7"/>
<line x1="355.3" y1="49.03" x2="353.7" y2="49.03" stroke="#3a3a3a" stroke-width="0.7"/>
<line x1="57.1" y1="47.11" x2="58.7" y2="47.11" stroke="#3a3a3a" stroke-width="0.7"/>
<line x1="355.3" y1="47.11" x2="353.7" y2="47.11" stroke="#3a3a3a" stroke-width="0.7"/>
<line x1="57.1" y1="45.40" x2="59.7" y2="45.40" stroke="#3a3a3a" stroke-width="0.7"/>
<line x1="355.3" y1="45.40" x2="352.7" y2="45.40" stroke="#3a3a3a" stroke-width="0.7"/>
<line x1="57.1" y1="34.13" x2="58.7" y2="34.13" stroke="#3a3a3a" stroke-width="0.7"/>
<line x1="355.3" y1="34.13" x2="353.7" y2="34.13" stroke="#3a3a3a" stroke-width="0.7"/>
<line x1="57.1" y1="27.53" x2="58.7" y2="27.53" stroke="#3a3a3a" stroke-width="0.7"/>
<line x1="355.3" y1="27.53" x2="353.7" y2="27.53" stroke="#3a3a3a" stroke-width="0.7"/>
<line x1="57.1" y1="22.85" x2="58.7" y2="22.85" stroke="#3a3a3a" stroke-width="0.7"/>
<line x1="355.3" y1="22.85" x2="353.7" y2="22.85" stroke="#3a3a3a" stroke-width="0.7"/>
<line x1="57.1" y1="19.22" x2="58.7" y2="19.22" stroke="#3a3a3a" stroke-width="0.7"/>
<line x1="355.3" y1="19.22" x2="353.7" y2="19.22" stroke="#3a3a3a" stroke-width="0.7"/>
<line x1="57.1" y1="16.26" x2="58.7" y2="16.26" stroke="#3a3a3a" stroke-width="0.7"/>
<line x1="355.3" y1="16.26" x2="353.7" y2="16.26" stroke="#3a3a3a" stroke-width="0.7"/>
<line x1="57.1" y1="13.75" x2="58.7" y2="13.75" stroke="#3a3a3a" stroke-width="0.7"/>
<line x1="355.3" y1="13.75" x2="353.7" y2="13.75" stroke="#3a3a3a" stroke-width="0.7"/>
<line x1="57.1" y1="11.58" x2="58.7" y2="11.58" stroke="#3a3a3a" stroke-width="0.7"/>
<line x1="355.3" y1="11.58" x2="353.7" y2="11.58" stroke="#3a3a3a" stroke-width="0.7"/>
<line x1="57.1" y1="9.66" x2="58.7" y2="9.66" stroke="#3a3a3a" stroke-width="0.7"/>
<line x1="355.3" y1="9.66" x2="353.7" y2="9.66" stroke="#3a3a3a" stroke-width="0.7"/>
<line x1="57.1" y1="7.95" x2="59.7" y2="7.95" stroke="#3a3a3a" stroke-width="0.7"/>
<line x1="355.3" y1="7.95" x2="352.7" y2="7.95" stroke="#3a3a3a" stroke-width="0.7"/>
<rect x="57.1" y="6.45" width="298.20" height="295.75" fill="none" stroke="#333" stroke-width="1"/>
<line x1="58.86" y1="664.15" x2="58.86" y2="662.55" stroke="#3a3a3a" stroke-width="0.7"/>
<line x1="58.86" y1="368.50" x2="58.86" y2="370.10" stroke="#3a3a3a" stroke-width="0.7"/>
<line x1="62.62" y1="664.15" x2="62.62" y2="662.55" stroke="#3a3a3a" stroke-width="0.7"/>
<line x1="62.62" y1="368.50" x2="62.62" y2="370.10" stroke="#3a3a3a" stroke-width="0.7"/>
<line x1="66.39" y1="664.15" x2="66.39" y2="662.55" stroke="#3a3a3a" stroke-width="0.7"/>
<line x1="66.39" y1="368.50" x2="66.39" y2="370.10" stroke="#3a3a3a" stroke-width="0.7"/>
<line x1="70.15" y1="664.15" x2="70.15" y2="661.55" stroke="#3a3a3a" stroke-width="0.7"/>
<line x1="70.15" y1="368.50" x2="70.15" y2="371.10" stroke="#3a3a3a" stroke-width="0.7"/>
<line x1="73.91" y1="664.15" x2="73.91" y2="662.55" stroke="#3a3a3a" stroke-width="0.7"/>
<line x1="73.91" y1="368.50" x2="73.91" y2="370.10" stroke="#3a3a3a" stroke-width="0.7"/>
<line x1="77.68" y1="664.15" x2="77.68" y2="662.55" stroke="#3a3a3a" stroke-width="0.7"/>
<line x1="77.68" y1="368.50" x2="77.68" y2="370.10" stroke="#3a3a3a" stroke-width="0.7"/>
<line x1="81.44" y1="664.15" x2="81.44" y2="662.55" stroke="#3a3a3a" stroke-width="0.7"/>
<line x1="81.44" y1="368.50" x2="81.44" y2="370.10" stroke="#3a3a3a" stroke-width="0.7"/>
<line x1="85.21" y1="664.15" x2="85.21" y2="661.55" stroke="#3a3a3a" stroke-width="0.7"/>
<line x1="85.21" y1="368.50" x2="85.21" y2="371.10" stroke="#3a3a3a" stroke-width="0.7"/>
<line x1="88.97" y1="664.15" x2="88.97" y2="662.55" stroke="#3a3a3a" stroke-width="0.7"/>
<line x1="88.97" y1="368.50" x2="88.97" y2="370.10" stroke="#3a3a3a" stroke-width="0.7"/>
<line x1="92.74" y1="664.15" x2="92.74" y2="662.55" stroke="#3a3a3a" stroke-width="0.7"/>
<line x1="92.74" y1="368.50" x2="92.74" y2="370.10" stroke="#3a3a3a" stroke-width="0.7"/>
<line x1="96.50" y1="664.15" x2="96.50" y2="662.55" stroke="#3a3a3a" stroke-width="0.7"/>
<line x1="96.50" y1="368.50" x2="96.50" y2="370.10" stroke="#3a3a3a" stroke-width="0.7"/>
<line x1="100.27" y1="664.15" x2="100.27" y2="661.55" stroke="#3a3a3a" stroke-width="0.7"/>
<line x1="100.27" y1="368.50" x2="100.27" y2="371.10" stroke="#3a3a3a" stroke-width="0.7"/>
<line x1="104.03" y1="664.15" x2="104.03" y2="662.55" stroke="#3a3a3a" stroke-width="0.7"/>
<line x1="104.03" y1="368.50" x2="104.03" y2="370.10" stroke="#3a3a3a" stroke-width="0.7"/>
<line x1="107.80" y1="664.15" x2="107.80" y2="662.55" stroke="#3a3a3a" stroke-width="0.7"/>
<line x1="107.80" y1="368.50" x2="107.80" y2="370.10" stroke="#3a3a3a" stroke-width="0.7"/>
<line x1="111.56" y1="664.15" x2="111.56" y2="662.55" stroke="#3a3a3a" stroke-width="0.7"/>
<line x1="111.56" y1="368.50" x2="111.56" y2="370.10" stroke="#3a3a3a" stroke-width="0.7"/>
<line x1="115.32" y1="664.15" x2="115.32" y2="661.55" stroke="#3a3a3a" stroke-width="0.7"/>
<line x1="115.32" y1="368.50" x2="115.32" y2="371.10" stroke="#3a3a3a" stroke-width="0.7"/>
<line x1="119.09" y1="664.15" x2="119.09" y2="662.55" stroke="#3a3a3a" stroke-width="0.7"/>
<line x1="119.09" y1="368.50" x2="119.09" y2="370.10" stroke="#3a3a3a" stroke-width="0.7"/>
<line x1="122.85" y1="664.15" x2="122.85" y2="662.55" stroke="#3a3a3a" stroke-width="0.7"/>
<line x1="122.85" y1="368.50" x2="122.85" y2="370.10" stroke="#3a3a3a" stroke-width="0.7"/>
<line x1="126.62" y1="664.15" x2="126.62" y2="662.55" stroke="#3a3a3a" stroke-width="0.7"/>
<line x1="126.62" y1="368.50" x2="126.62" y2="370.10" stroke="#3a3a3a" stroke-width="0.7"/>
<line x1="130.38" y1="664.15" x2="130.38" y2="661.55" stroke="#3a3a3a" stroke-width="0.7"/>
<line x1="130.38" y1="368.50" x2="130.38" y2="371.10" stroke="#3a3a3a" stroke-width="0.7"/>
<line x1="134.15" y1="664.15" x2="134.15" y2="662.55" stroke="#3a3a3a" stroke-width="0.7"/>
<line x1="134.15" y1="368.50" x2="134.15" y2="370.10" stroke="#3a3a3a" stroke-width="0.7"/>
<line x1="137.91" y1="664.15" x2="137.91" y2="662.55" stroke="#3a3a3a" stroke-width="0.7"/>
<line x1="137.91" y1="368.50" x2="137.91" y2="370.10" stroke="#3a3a3a" stroke-width="0.7"/>
<line x1="141.68" y1="664.15" x2="141.68" y2="662.55" stroke="#3a3a3a" stroke-width="0.7"/>
<line x1="141.68" y1="368.50" x2="141.68" y2="370.10" stroke="#3a3a3a" stroke-width="0.7"/>
<line x1="145.44" y1="664.15" x2="145.44" y2="661.55" stroke="#3a3a3a" stroke-width="0.7"/>
<line x1="145.44" y1="368.50" x2="145.44" y2="371.10" stroke="#3a3a3a" stroke-width="0.7"/>
<line x1="149.21" y1="664.15" x2="149.21" y2="662.55" stroke="#3a3a3a" stroke-width="0.7"/>
<line x1="149.21" y1="368.50" x2="149.21" y2="370.10" stroke="#3a3a3a" stroke-width="0.7"/>
<line x1="152.97" y1="664.15" x2="152.97" y2="662.55" stroke="#3a3a3a" stroke-width="0.7"/>
<line x1="152.97" y1="368.50" x2="152.97" y2="370.10" stroke="#3a3a3a" stroke-width="0.7"/>
<line x1="156.74" y1="664.15" x2="156.74" y2="662.55" stroke="#3a3a3a" stroke-width="0.7"/>
<line x1="156.74" y1="368.50" x2="156.74" y2="370.10" stroke="#3a3a3a" stroke-width="0.7"/>
<line x1="160.50" y1="664.15" x2="160.50" y2="661.55" stroke="#3a3a3a" stroke-width="0.7"/>
<line x1="160.50" y1="368.50" x2="160.50" y2="371.10" stroke="#3a3a3a" stroke-width="0.7"/>
<line x1="164.26" y1="664.15" x2="164.26" y2="662.55" stroke="#3a3a3a" stroke-width="0.7"/>
<line x1="164.26" y1="368.50" x2="164.26" y2="370.10" stroke="#3a3a3a" stroke-width="0.7"/>
<line x1="168.03" y1="664.15" x2="168.03" y2="662.55" stroke="#3a3a3a" stroke-width="0.7"/>
<line x1="168.03" y1="368.50" x2="168.03" y2="370.10" stroke="#3a3a3a" stroke-width="0.7"/>
<line x1="171.79" y1="664.15" x2="171.79" y2="662.55" stroke="#3a3a3a" stroke-width="0.7"/>
<line x1="171.79" y1="368.50" x2="171.79" y2="370.10" stroke="#3a3a3a" stroke-width="0.7"/>
<line x1="175.56" y1="664.15" x2="175.56" y2="661.55" stroke="#3a3a3a" stroke-width="0.7"/>
<line x1="175.56" y1="368.50" x2="175.56" y2="371.10" stroke="#3a3a3a" stroke-width="0.7"/>
<line x1="179.32" y1="664.15" x2="179.32" y2="662.55" stroke="#3a3a3a" stroke-width="0.7"/>
<line x1="179.32" y1="368.50" x2="179.32" y2="370.10" stroke="#3a3a3a" stroke-width="0.7"/>
<line x1="183.09" y1="664.15" x2="183.09" y2="662.55" stroke="#3a3a3a" stroke-width="0.7"/>
<line x1="183.09" y1="368.50" x2="183.09" y2="370.10" stroke="#3a3a3a" stroke-width="0.7"/>
<line x1="186.85" y1="664.15" x2="186.85" y2="662.55" stroke="#3a3a3a" stroke-width="0.7"/>
<line x1="186.85" y1="368.50" x2="186.85" y2="370.10" stroke="#3a3a3a" stroke-width="0.7"/>
<line x1="190.62" y1="664.15" x2="190.62" y2="661.55" stroke="#3a3a3a" stroke-width="0.7"/>
<line x1="190.62" y1="368.50" x2="190.62" y2="371.10" stroke="#3a3a3a" stroke-width="0.7"/>
<line x1="194.38" y1="664.15" x2="194.38" y2="662.55" stroke="#3a3a3a" stroke-width="0.7"/>
<line x1="194.38" y1="368.50" x2="194.38" y2="370.10" stroke="#3a3a3a" stroke-width="0.7"/>
<line x1="198.15" y1="664.15" x2="198.15" y2="662.55" stroke="#3a3a3a" stroke-width="0.7"/>
<line x1="198.15" y1="368.50" x2="198.15" y2="370.10" stroke="#3a3a3a" stroke-width="0.7"/>
<line x1="201.91" y1="664.15" x2="201.91" y2="662.55" stroke="#3a3a3a" stroke-width="0.7"/>
<line x1="201.91" y1="368.50" x2="201.91" y2="370.10" stroke="#3a3a3a" stroke-width="0.7"/>
<line x1="205.67" y1="664.15" x2="205.67" y2="661.55" stroke="#3a3a3a" stroke-width="0.7"/>
<line x1="205.67" y1="368.50" x2="205.67" y2="371.10" stroke="#3a3a3a" stroke-width="0.7"/>
<line x1="209.44" y1="664.15" x2="209.44" y2="662.55" stroke="#3a3a3a" stroke-width="0.7"/>
<line x1="209.44" y1="368.50" x2="209.44" y2="370.10" stroke="#3a3a3a" stroke-width="0.7"/>
<line x1="213.20" y1="664.15" x2="213.20" y2="662.55" stroke="#3a3a3a" stroke-width="0.7"/>
<line x1="213.20" y1="368.50" x2="213.20" y2="370.10" stroke="#3a3a3a" stroke-width="0.7"/>
<line x1="216.97" y1="664.15" x2="216.97" y2="662.55" stroke="#3a3a3a" stroke-width="0.7"/>
<line x1="216.97" y1="368.50" x2="216.97" y2="370.10" stroke="#3a3a3a" stroke-width="0.7"/>
<line x1="220.73" y1="664.15" x2="220.73" y2="661.55" stroke="#3a3a3a" stroke-width="0.7"/>
<line x1="220.73" y1="368.50" x2="220.73" y2="371.10" stroke="#3a3a3a" stroke-width="0.7"/>
<line x1="224.50" y1="664.15" x2="224.50" y2="662.55" stroke="#3a3a3a" stroke-width="0.7"/>
<line x1="224.50" y1="368.50" x2="224.50" y2="370.10" stroke="#3a3a3a" stroke-width="0.7"/>
<line x1="228.26" y1="664.15" x2="228.26" y2="662.55" stroke="#3a3a3a" stroke-width="0.7"/>
<line x1="228.26" y1="368.50" x2="228.26" y2="370.10" stroke="#3a3a3a" stroke-width="0.7"/>
<line x1="232.03" y1="664.15" x2="232.03" y2="662.55" stroke="#3a3a3a" stroke-width="0.7"/>
<line x1="232.03" y1="368.50" x2="232.03" y2="370.10" stroke="#3a3a3a" stroke-width="0.7"/>
<line x1="235.79" y1="664.15" x2="235.79" y2="661.55" stroke="#3a3a3a" stroke-width="0.7"/>
<line x1="235.79" y1="368.50" x2="235.79" y2="371.10" stroke="#3a3a3a" stroke-width="0.7"/>
<line x1="239.56" y1="664.15" x2="239.56" y2="662.55" stroke="#3a3a3a" stroke-width="0.7"/>
<line x1="239.56" y1="368.50" x2="239.56" y2="370.10" stroke="#3a3a3a" stroke-width="0.7"/>
<line x1="243.32" y1="664.15" x2="243.32" y2="662.55" stroke="#3a3a3a" stroke-width="0.7"/>
<line x1="243.32" y1="368.50" x2="243.32" y2="370.10" stroke="#3a3a3a" stroke-width="0.7"/>
<line x1="247.09" y1="664.15" x2="247.09" y2="662.55" stroke="#3a3a3a" stroke-width="0.7"/>
<line x1="247.09" y1="368.50" x2="247.09" y2="370.10" stroke="#3a3a3a" stroke-width="0.7"/>
<line x1="250.85" y1="664.15" x2="250.85" y2="661.55" stroke="#3a3a3a" stroke-width="0.7"/>
<line x1="250.85" y1="368.50" x2="250.85" y2="371.10" stroke="#3a3a3a" stroke-width="0.7"/>
<line x1="254.61" y1="664.15" x2="254.61" y2="662.55" stroke="#3a3a3a" stroke-width="0.7"/>
<line x1="254.61" y1="368.50" x2="254.61" y2="370.10" stroke="#3a3a3a" stroke-width="0.7"/>
<line x1="258.38" y1="664.15" x2="258.38" y2="662.55" stroke="#3a3a3a" stroke-width="0.7"/>
<line x1="258.38" y1="368.50" x2="258.38" y2="370.10" stroke="#3a3a3a" stroke-width="0.7"/>
<line x1="262.14" y1="664.15" x2="262.14" y2="662.55" stroke="#3a3a3a" stroke-width="0.7"/>
<line x1="262.14" y1="368.50" x2="262.14" y2="370.10" stroke="#3a3a3a" stroke-width="0.7"/>
<line x1="265.91" y1="664.15" x2="265.91" y2="661.55" stroke="#3a3a3a" stroke-width="0.7"/>
<line x1="265.91" y1="368.50" x2="265.91" y2="371.10" stroke="#3a3a3a" stroke-width="0.7"/>
<line x1="269.67" y1="664.15" x2="269.67" y2="662.55" stroke="#3a3a3a" stroke-width="0.7"/>
<line x1="269.67" y1="368.50" x2="269.67" y2="370.10" stroke="#3a3a3a" stroke-width="0.7"/>
<line x1="273.44" y1="664.15" x2="273.44" y2="662.55" stroke="#3a3a3a" stroke-width="0.7"/>
<line x1="273.44" y1="368.50" x2="273.44" y2="370.10" stroke="#3a3a3a" stroke-width="0.7"/>
<line x1="277.20" y1="664.15" x2="277.20" y2="662.55" stroke="#3a3a3a" stroke-width="0.7"/>
<line x1="277.20" y1="368.50" x2="277.20" y2="370.10" stroke="#3a3a3a" stroke-width="0.7"/>
<line x1="280.97" y1="664.15" x2="280.97" y2="661.55" stroke="#3a3a3a" stroke-width="0.7"/>
<line x1="280.97" y1="368.50" x2="280.97" y2="371.10" stroke="#3a3a3a" stroke-width="0.7"/>
<line x1="284.73" y1="664.15" x2="284.73" y2="662.55" stroke="#3a3a3a" stroke-width="0.7"/>
<line x1="284.73" y1="368.50" x2="284.73" y2="370.10" stroke="#3a3a3a" stroke-width="0.7"/>
<line x1="288.50" y1="664.15" x2="288.50" y2="662.55" stroke="#3a3a3a" stroke-width="0.7"/>
<line x1="288.50" y1="368.50" x2="288.50" y2="370.10" stroke="#3a3a3a" stroke-width="0.7"/>
<line x1="292.26" y1="664.15" x2="292.26" y2="662.55" stroke="#3a3a3a" stroke-width="0.7"/>
<line x1="292.26" y1="368.50" x2="292.26" y2="370.10" stroke="#3a3a3a" stroke-width="0.7"/>
<line x1="296.02" y1="664.15" x2="296.02" y2="661.55" stroke="#3a3a3a" stroke-width="0.7"/>
<line x1="296.02" y1="368.50" x2="296.02" y2="371.10" stroke="#3a3a3a" stroke-width="0.7"/>
<line x1="299.79" y1="664.15" x2="299.79" y2="662.55" stroke="#3a3a3a" stroke-width="0.7"/>
<line x1="299.79" y1="368.50" x2="299.79" y2="370.10" stroke="#3a3a3a" stroke-width="0.7"/>
<line x1="303.55" y1="664.15" x2="303.55" y2="662.55" stroke="#3a3a3a" stroke-width="0.7"/>
<line x1="303.55" y1="368.50" x2="303.55" y2="370.10" stroke="#3a3a3a" stroke-width="0.7"/>
<line x1="307.32" y1="664.15" x2="307.32" y2="662.55" stroke="#3a3a3a" stroke-width="0.7"/>
<line x1="307.32" y1="368.50" x2="307.32" y2="370.10" stroke="#3a3a3a" stroke-width="0.7"/>
<line x1="311.08" y1="664.15" x2="311.08" y2="661.55" stroke="#3a3a3a" stroke-width="0.7"/>
<line x1="311.08" y1="368.50" x2="311.08" y2="371.10" stroke="#3a3a3a" stroke-width="0.7"/>
<line x1="314.85" y1="664.15" x2="314.85" y2="662.55" stroke="#3a3a3a" stroke-width="0.7"/>
<line x1="314.85" y1="368.50" x2="314.85" y2="370.10" stroke="#3a3a3a" stroke-width="0.7"/>
<line x1="318.61" y1="664.15" x2="318.61" y2="662.55" stroke="#3a3a3a" stroke-width="0.7"/>
<line x1="318.61" y1="368.50" x2="318.61" y2="370.10" stroke="#3a3a3a" stroke-width="0.7"/>
<line x1="322.38" y1="664.15" x2="322.38" y2="662.55" stroke="#3a3a3a" stroke-width="0.7"/>
<line x1="322.38" y1="368.50" x2="322.38" y2="370.10" stroke="#3a3a3a" stroke-width="0.7"/>
<line x1="326.14" y1="664.15" x2="326.14" y2="661.55" stroke="#3a3a3a" stroke-width="0.7"/>
<line x1="326.14" y1="368.50" x2="326.14" y2="371.10" stroke="#3a3a3a" stroke-width="0.7"/>
<line x1="329.91" y1="664.15" x2="329.91" y2="662.55" stroke="#3a3a3a" stroke-width="0.7"/>
<line x1="329.91" y1="368.50" x2="329.91" y2="370.10" stroke="#3a3a3a" stroke-width="0.7"/>
<line x1="333.67" y1="664.15" x2="333.67" y2="662.55" stroke="#3a3a3a" stroke-width="0.7"/>
<line x1="333.67" y1="368.50" x2="333.67" y2="370.10" stroke="#3a3a3a" stroke-width="0.7"/>
<line x1="337.44" y1="664.15" x2="337.44" y2="662.55" stroke="#3a3a3a" stroke-width="0.7"/>
<line x1="337.44" y1="368.50" x2="337.44" y2="370.10" stroke="#3a3a3a" stroke-width="0.7"/>
<line x1="341.20" y1="664.15" x2="341.20" y2="661.55" stroke="#3a3a3a" stroke-width="0.7"/>
<line x1="341.20" y1="368.50" x2="341.20" y2="371.10" stroke="#3a3a3a" stroke-width="0.7"/>
<line x1="344.96" y1="664.15" x2="344.96" y2="662.55" stroke="#3a3a3a" stroke-width="0.7"/>
<line x1="344.96" y1="368.50" x2="344.96" y2="370.10" stroke="#3a3a3a" stroke-width="0.7"/>
<line x1="348.73" y1="664.15" x2="348.73" y2="662.55" stroke="#3a3a3a" stroke-width="0.7"/>
<line x1="348.73" y1="368.50" x2="348.73" y2="370.10" stroke="#3a3a3a" stroke-width="0.7"/>
<line x1="352.49" y1="664.15" x2="352.49" y2="662.55" stroke="#3a3a3a" stroke-width="0.7"/>
<line x1="352.49" y1="368.50" x2="352.49" y2="370.10" stroke="#3a3a3a" stroke-width="0.7"/>
<line x1="56.5" y1="632.40" x2="59.1" y2="632.40" stroke="#3a3a3a" stroke-width="0.7"/>
<line x1="354.8" y1="632.40" x2="352.2" y2="632.40" stroke="#3a3a3a" stroke-width="0.7"/>
<line x1="56.5" y1="594.40" x2="59.1" y2="594.40" stroke="#3a3a3a" stroke-width="0.7"/>
<line x1="354.8" y1="594.40" x2="352.2" y2="594.40" stroke="#3a3a3a" stroke-width="0.7"/>
<line x1="56.5" y1="556.40" x2="59.1" y2="556.40" stroke="#3a3a3a" stroke-width="0.7"/>
<line x1="354.8" y1="556.40" x2="352.2" y2="556.40" stroke="#3a3a3a" stroke-width="0.7"/>
<line x1="56.5" y1="518.40" x2="59.1" y2="518.40" stroke="#3a3a3a" stroke-width="0.7"/>
<line x1="354.8" y1="518.40" x2="352.2" y2="518.40" stroke="#3a3a3a" stroke-width="0.7"/>
<line x1="56.5" y1="480.40" x2="59.1" y2="480.40" stroke="#3a3a3a" stroke-width="0.7"/>
<line x1="354.8" y1="480.40" x2="352.2" y2="480.40" stroke="#3a3a3a" stroke-width="0.7"/>
<line x1="56.5" y1="442.40" x2="59.1" y2="442.40" stroke="#3a3a3a" stroke-width="0.7"/>
<line x1="354.8" y1="442.40" x2="352.2" y2="442.40" stroke="#3a3a3a" stroke-width="0.7"/>
<line x1="56.5" y1="404.40" x2="59.1" y2="404.40" stroke="#3a3a3a" stroke-width="0.7"/>
<line x1="354.8" y1="404.40" x2="352.2" y2="404.40" stroke="#3a3a3a" stroke-width="0.7"/>
<rect x="56.5" y="368.5" width="298.30" height="295.65" fill="none" stroke="#333" stroke-width="1"/>
<text x="41.2" y="276.40" font-family="Liberation Serif, serif" font-size="15" text-anchor="middle" fill="#161616">10</text>
<text x="48.3" y="270.90" font-family="Liberation Serif, serif" font-size="10.5" fill="#161616">2</text>
<text x="41.2" y="238.95" font-family="Liberation Serif, serif" font-size="15" text-anchor="middle" fill="#161616">10</text>
<text x="48.3" y="233.45" font-family="Liberation Serif, serif" font-size="10.5" fill="#161616">3</text>
<text x="41.2" y="201.50" font-family="Liberation Serif, serif" font-size="15" text-anchor="middle" fill="#161616">10</text>
<text x="48.3" y="196.00" font-family="Liberation Serif, serif" font-size="10.5" fill="#161616">4</text>
<text x="41.2" y="164.05" font-family="Liberation Serif, serif" font-size="15" text-anchor="middle" fill="#161616">10</text>
<text x="48.3" y="158.55" font-family="Liberation Serif, serif" font-size="10.5" fill="#161616">5</text>
<text x="41.2" y="126.60" font-family="Liberation Serif, serif" font-size="15" text-anchor="middle" fill="#161616">10</text>
<text x="48.3" y="121.10" font-family="Liberation Serif, serif" font-size="10.5" fill="#161616">6</text>
<text x="41.2" y="89.15" font-family="Liberation Serif, serif" font-size="15" text-anchor="middle" fill="#161616">10</text>
<text x="48.3" y="83.65" font-family="Liberation Serif, serif" font-size="10.5" fill="#161616">7</text>
<text x="41.2" y="51.70" font-family="Liberation Serif, serif" font-size="15" text-anchor="middle" fill="#161616">10</text>
<text x="48.3" y="46.20" font-family="Liberation Serif, serif" font-size="10.5" fill="#161616">8</text>
<text x="41.2" y="14.25" font-family="Liberation Serif, serif" font-size="15" text-anchor="middle" fill="#161616">10</text>
<text x="48.3" y="8.75" font-family="Liberation Serif, serif" font-size="10.5" fill="#161616">9</text>
<text x="27.3" y="638.70" font-family="Liberation Serif, serif" font-size="15" text-anchor="middle" fill="#161616">10</text>
<text transform="translate(38.4,633.30) scale(1.3,1)" font-family="Liberation Serif, serif" font-size="10.5" text-anchor="middle" fill="#161616">−</text>
<text x="42.9" y="633.30" font-family="Liberation Serif, serif" font-size="10.5" fill="#161616">26</text>
<text x="27.3" y="600.70" font-family="Liberation Serif, serif" font-size="15" text-anchor="middle" fill="#161616">10</text>
<text transform="translate(38.4,595.30) scale(1.3,1)" font-family="Liberation Serif, serif" font-size="10.5" text-anchor="middle" fill="#161616">−</text>
<text x="42.9" y="595.30" font-family="Liberation Serif, serif" font-size="10.5" fill="#161616">24</text>
<text x="27.3" y="562.70" font-family="Liberation Serif, serif" font-size="15" text-anchor="middle" fill="#161616">10</text>
<text transform="translate(38.4,557.30) scale(1.3,1)" font-family="Liberation Serif, serif" font-size="10.5" text-anchor="middle" fill="#161616">−</text>
<text x="42.9" y="557.30" font-family="Liberation Serif, serif" font-size="10.5" fill="#161616">22</text>
<text x="27.3" y="524.70" font-family="Liberation Serif, serif" font-size="15" text-anchor="middle" fill="#161616">10</text>
<text transform="translate(38.4,519.30) scale(1.3,1)" font-family="Liberation Serif, serif" font-size="10.5" text-anchor="middle" fill="#161616">−</text>
<text x="42.9" y="519.30" font-family="Liberation Serif, serif" font-size="10.5" fill="#161616">20</text>
<text x="27.3" y="486.70" font-family="Liberation Serif, serif" font-size="15" text-anchor="middle" fill="#161616">10</text>
<text transform="translate(38.4,481.30) scale(1.3,1)" font-family="Liberation Serif, serif" font-size="10.5" text-anchor="middle" fill="#161616">−</text>
<text x="42.9" y="481.30" font-family="Liberation Serif, serif" font-size="10.5" fill="#161616">18</text>
<text x="27.3" y="448.70" font-family="Liberation Serif, serif" font-size="15" text-anchor="middle" fill="#161616">10</text>
<text transform="translate(38.4,443.30) scale(1.3,1)" font-family="Liberation Serif, serif" font-size="10.5" text-anchor="middle" fill="#161616">−</text>
<text x="42.9" y="443.30" font-family="Liberation Serif, serif" font-size="10.5" fill="#161616">16</text>
<text x="27.3" y="410.70" font-family="Liberation Serif, serif" font-size="15" text-anchor="middle" fill="#161616">10</text>
<text transform="translate(38.4,405.30) scale(1.3,1)" font-family="Liberation Serif, serif" font-size="10.5" text-anchor="middle" fill="#161616">−</text>
<text x="42.9" y="405.30" font-family="Liberation Serif, serif" font-size="10.5" fill="#161616">14</text>
<text transform="translate(70.10,315.30) rotate(-45)" font-family="Liberation Serif, serif" font-size="15" text-anchor="middle" dy="0.33em" fill="#161616">26</text>
<text transform="translate(85.16,315.30) rotate(-45)" font-family="Liberation Serif, serif" font-size="15" text-anchor="middle" dy="0.33em" fill="#161616">30</text>
<text transform="translate(100.21,315.30) rotate(-45)" font-family="Liberation Serif, serif" font-size="15" text-anchor="middle" dy="0.33em" fill="#161616">34</text>
<text transform="translate(115.27,315.30) rotate(-45)" font-family="Liberation Serif, serif" font-size="15" text-anchor="middle" dy="0.33em" fill="#161616">38</text>
<text transform="translate(130.32,315.30) rotate(-45)" font-family="Liberation Serif, serif" font-size="15" text-anchor="middle" dy="0.33em" fill="#161616">42</text>
<text transform="translate(145.38,315.30) rotate(-45)" font-family="Liberation Serif, serif" font-size="15" text-anchor="middle" dy="0.33em" fill="#161616">46</text>
<text transform="translate(160.43,315.30) rotate(-45)" font-family="Liberation Serif, serif" font-size="15" text-anchor="middle" dy="0.33em" fill="#161616">50</text>
<text transform="translate(175.49,315.30) rotate(-45)" font-family="Liberation Serif, serif" font-size="15" text-anchor="middle" dy="0.33em" fill="#161616">54</text>
<text transform="translate(190.54,315.30) rotate(-45)" font-family="Liberation Serif, serif" font-size="15" text-anchor="middle" dy="0.33em" fill="#161616">58</text>
<text transform="translate(205.60,315.30) rotate(-45)" font-family="Liberation Serif, serif" font-size="15" text-anchor="middle" dy="0.33em" fill="#161616">62</text>
<text transform="translate(220.66,315.30) rotate(-45)" font-family="Liberation Serif, serif" font-size="15" text-anchor="middle" dy="0.33em" fill="#161616">66</text>
<text transform="translate(235.71,315.30) rotate(-45)" font-family="Liberation Serif, serif" font-size="15" text-anchor="middle" dy="0.33em" fill="#161616">70</text>
<text transform="translate(250.77,315.30) rotate(-45)" font-family="Liberation Serif, serif" font-size="15" text-anchor="middle" dy="0.33em" fill="#161616">74</text>
<text transform="translate(265.82,315.30) rotate(-45)" font-family="Liberation Serif, serif" font-size="15" text-anchor="middle" dy="0.33em" fill="#161616">78</text>
<text transform="translate(280.88,315.30) rotate(-45)" font-family="Liberation Serif, serif" font-size="15" text-anchor="middle" dy="0.33em" fill="#161616">82</text>
<text transform="translate(295.93,315.30) rotate(-45)" font-family="Liberation Serif, serif" font-size="15" text-anchor="middle" dy="0.33em" fill="#161616">86</text>
<text transform="translate(310.99,315.30) rotate(-45)" font-family="Liberation Serif, serif" font-size="15" text-anchor="middle" dy="0.33em" fill="#161616">90</text>
<text transform="translate(326.04,315.30) rotate(-45)" font-family="Liberation Serif, serif" font-size="15" text-anchor="middle" dy="0.33em" fill="#161616">94</text>
<text transform="translate(341.10,315.30) rotate(-45)" font-family="Liberation Serif, serif" font-size="15" text-anchor="middle" dy="0.33em" fill="#161616">98</text>
<text transform="translate(69.35,677.25) rotate(-45)" font-family="Liberation Serif, serif" font-size="15" text-anchor="middle" dy="0.33em" fill="#161616">26</text>
<text transform="translate(84.41,677.25) rotate(-45)" font-family="Liberation Serif, serif" font-size="15" text-anchor="middle" dy="0.33em" fill="#161616">30</text>
<text transform="translate(99.47,677.25) rotate(-45)" font-family="Liberation Serif, serif" font-size="15" text-anchor="middle" dy="0.33em" fill="#161616">34</text>
<text transform="translate(114.52,677.25) rotate(-45)" font-family="Liberation Serif, serif" font-size="15" text-anchor="middle" dy="0.33em" fill="#161616">38</text>
<text transform="translate(129.58,677.25) rotate(-45)" font-family="Liberation Serif, serif" font-size="15" text-anchor="middle" dy="0.33em" fill="#161616">42</text>
<text transform="translate(144.64,677.25) rotate(-45)" font-family="Liberation Serif, serif" font-size="15" text-anchor="middle" dy="0.33em" fill="#161616">46</text>
<text transform="translate(159.70,677.25) rotate(-45)" font-family="Liberation Serif, serif" font-size="15" text-anchor="middle" dy="0.33em" fill="#161616">50</text>
<text transform="translate(174.76,677.25) rotate(-45)" font-family="Liberation Serif, serif" font-size="15" text-anchor="middle" dy="0.33em" fill="#161616">54</text>
<text transform="translate(189.82,677.25) rotate(-45)" font-family="Liberation Serif, serif" font-size="15" text-anchor="middle" dy="0.33em" fill="#161616">58</text>
<text transform="translate(204.87,677.25) rotate(-45)" font-family="Liberation Serif, serif" font-size="15" text-anchor="middle" dy="0.33em" fill="#161616">62</text>
<text transform="translate(219.93,677.25) rotate(-45)" font-family="Liberation Serif, serif" font-size="15" text-anchor="middle" dy="0.33em" fill="#161616">66</text>
<text transform="translate(234.99,677.25) rotate(-45)" font-family="Liberation Serif, serif" font-size="15" text-anchor="middle" dy="0.33em" fill="#161616">70</text>
<text transform="translate(250.05,677.25) rotate(-45)" font-family="Liberation Serif, serif" font-size="15" text-anchor="middle" dy="0.33em" fill="#161616">74</text>
<text transform="translate(265.11,677.25) rotate(-45)" font-family="Liberation Serif, serif" font-size="15" text-anchor="middle" dy="0.33em" fill="#161616">78</text>
<text transform="translate(280.17,677.25) rotate(-45)" font-family="Liberation Serif, serif" font-size="15" text-anchor="middle" dy="0.33em" fill="#161616">82</text>
<text transform="translate(295.22,677.25) rotate(-45)" font-family="Liberation Serif, serif" font-size="15" text-anchor="middle" dy="0.33em" fill="#161616">86</text>
<text transform="translate(310.28,677.25) rotate(-45)" font-family="Liberation Serif, serif" font-size="15" text-anchor="middle" dy="0.33em" fill="#161616">90</text>
<text transform="translate(325.34,677.25) rotate(-45)" font-family="Liberation Serif, serif" font-size="15" text-anchor="middle" dy="0.33em" fill="#161616">94</text>
<text transform="translate(340.40,677.25) rotate(-45)" font-family="Liberation Serif, serif" font-size="15" text-anchor="middle" dy="0.33em" fill="#161616">98</text>
<text x="98.1" y="342.3" font-family="Liberation Sans, sans-serif" font-size="15" lengthAdjust="spacingAndGlyphs" fill="#111" stroke="#111" stroke-width="0.1" textLength="214.9">number of samples per period</text>
<text x="97.6" y="703.7" font-family="Liberation Sans, sans-serif" font-size="15" lengthAdjust="spacingAndGlyphs" fill="#111" stroke="#111" stroke-width="0.1" textLength="214.9">number of samples per period</text>
<text transform="translate(28.9,217.6) rotate(-90)" font-family="Liberation Sans, sans-serif" font-size="15" lengthAdjust="spacingAndGlyphs" fill="#111" stroke="#111" stroke-width="0.1" textLength="126.6">condition number</text>
<text transform="translate(14.5,619.0) rotate(-90)" font-family="Liberation Sans, sans-serif" font-size="15" lengthAdjust="spacingAndGlyphs" fill="#111" stroke="#111" stroke-width="0.1" textLength="204.5">a posteriori normalized MSE</text>
<path d="M393.30,137.20L390.50,142.80L396.10,142.80Z" fill="#f23a3c" stroke="#b81e28" stroke-width="0.8"/>
<circle cx="393.30" cy="166.80" r="2.95" fill="#505050" stroke="#181818" stroke-width="1.1"/>
<text x="426.7" y="145.9" font-family="Liberation Sans, sans-serif" font-size="15" lengthAdjust="spacingAndGlyphs" fill="#111" stroke="#111" stroke-width="0.1" textLength="32.3">time</text>
<text x="426.7" y="172.8" font-family="Liberation Sans, sans-serif" font-size="15" lengthAdjust="spacingAndGlyphs" fill="#111" stroke="#111" stroke-width="0.1" textLength="56">spectral</text>
<path d="M392.90,501.00L390.10,506.60L395.70,506.60Z" fill="#f23a3c" stroke="#b81e28" stroke-width="0.8"/>
<path d="M392.90,530.80L390.10,525.20L395.70,525.20Z" fill="#3aa24a" stroke="#1a5c24" stroke-width="0.8"/>
<text x="425.8" y="507.9" font-family="Liberation Sans, sans-serif" font-size="15" lengthAdjust="spacingAndGlyphs" fill="#111" stroke="#111" stroke-width="0.1" textLength="70.3">time lstsq</text>
<text x="425.8" y="535.0" font-family="Liberation Sans, sans-serif" font-size="15" lengthAdjust="spacingAndGlyphs" fill="#111" stroke="#111" stroke-width="0.1" textLength="94.6">spectral lstsq</text>
</svg></body></html>
